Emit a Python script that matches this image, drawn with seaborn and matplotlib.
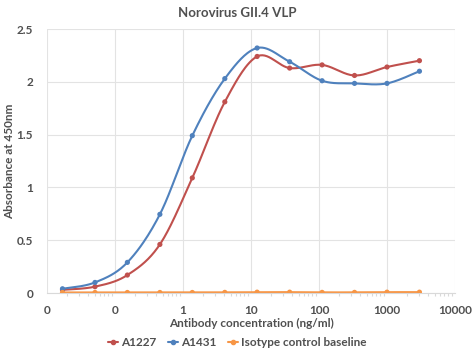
import numpy as np
import pandas as pd
import matplotlib
matplotlib.use("Agg")
import matplotlib.pyplot as plt
import matplotlib.ticker as mticker
import seaborn as sns

# data
conc = [0.0169, 0.0508, 0.152, 0.457, 1.37, 4.12, 12.3, 37.0, 111.0, 333.0, 1000.0, 3000.0]
a1227 = [0.03, 0.06, 0.17, 0.46, 1.09, 1.81, 2.24, 2.13, 2.16, 2.06, 2.14, 2.20]
a1431 = [0.04, 0.10, 0.29, 0.745, 1.49, 2.03, 2.32, 2.19, 2.01, 1.985, 1.985, 2.10]
isotype = [0.005, 0.005, 0.005, 0.005, 0.005, 0.006, 0.008, 0.008, 0.006, 0.006, 0.008, 0.008]
xticklabels = ["0", "0", "1", "10", "100", "1000", "10000"]

colors = {"A1227": "#C0504D", "A1431": "#4F81BD", "Isotype control baseline": "#F79646"}


def smooth(xs, ys, n=30):
    # Excel-like smoothed line (Catmull-Rom / Bezier) in log-x space
    lx = np.log10(xs)
    ys = np.asarray(ys, float)
    px, py = [], []
    for i in range(len(lx) - 1):
        x0, y0 = (lx[i - 1], ys[i - 1]) if i > 0 else (lx[i], ys[i])
        x1, y1 = lx[i], ys[i]
        x2, y2 = lx[i + 1], ys[i + 1]
        x3, y3 = (lx[i + 2], ys[i + 2]) if i + 2 < len(lx) else (x2, y2)
        c1x, c1y = x1 + (x2 - x0) / 6, y1 + (y2 - y0) / 6
        c2x, c2y = x2 - (x3 - x1) / 6, y2 - (y3 - y1) / 6
        t = np.linspace(0, 1, n, endpoint=False)
        b = [(1 - t) ** 3, 3 * (1 - t) ** 2 * t, 3 * (1 - t) * t ** 2, t ** 3]
        px.extend(b[0] * x1 + b[1] * c1x + b[2] * c2x + b[3] * x2)
        py.extend(b[0] * y1 + b[1] * c1y + b[2] * c2y + b[3] * y2)
    px.append(lx[-1])
    py.append(ys[-1])
    return 10 ** np.array(px), np.array(py)


sns.set_style("white")
plt.rcParams["font.family"] = ["Lato", "DejaVu Sans"]
text_col = "#505050"

fig = plt.figure(figsize=(4.74, 3.55), dpi=100)
ax = fig.add_axes([47 / 474, 1 - 293 / 355, 408 / 474, 264 / 355])

series = [("A1227", a1227), ("A1431", a1431), ("Isotype control baseline", isotype)]
for name, vals in series:
    sx, sy = smooth(conc, vals)
    line_df = pd.DataFrame({"x": sx, "y": sy})
    sns.lineplot(data=line_df, x="x", y="y", ax=ax, color=colors[name], lw=1.5,
                 sort=False, estimator=None)
    pt_df = pd.DataFrame({"x": conc, "y": vals})
    sns.scatterplot(data=pt_df, x="x", y="y", ax=ax, color=colors[name], s=14,
                    edgecolor="none", zorder=3)

ax.set_xscale("log")
ax.set_xlim(0.01, 10000)
ax.set_ylim(0, 2.5)
ax.set_xticks([0.01, 0.1, 1, 10, 100, 1000, 10000])
ax.set_xticklabels(xticklabels)
ax.set_yticks([0, 0.5, 1, 1.5, 2, 2.5])
ax.set_yticklabels(["0", "0.5", "1", "1.5", "2", "2.5"])
ax.xaxis.set_minor_locator(mticker.LogLocator(base=10, subs=np.arange(2, 10), numticks=20))
ax.xaxis.set_minor_formatter(mticker.NullFormatter())

ax.grid(True, which="major", color="#E3E3E3", lw=0.8)
ax.set_axisbelow(True)
for s in ["top", "right", "left"]:
    ax.spines[s].set_visible(False)
ax.spines["bottom"].set_color("#D9D9D9")
ax.tick_params(axis="x", which="minor", direction="out", length=2.5, color="#D9D9D9", width=0.8, bottom=True)
ax.tick_params(axis="x", which="major", length=0, pad=9)
ax.tick_params(axis="y", length=0, pad=10)
ax.tick_params(labelsize=8.5, labelcolor=text_col)
for lab in ax.get_xticklabels() + ax.get_yticklabels():
    lab.set_fontweight("bold")

ax.set_xlabel("Antibody concentration (ng/ml)", fontsize=8.5, color=text_col, fontweight="bold")
ax.xaxis.set_label_coords(0.5, -(323 - 293) / 264, transform=ax.transAxes)
ax.xaxis.label.set_va("center")
ax.set_ylabel("Absorbance at 450nm", fontsize=8.5, color=text_col, fontweight="bold")
ax.yaxis.set_label_coords(-(47 - 10) / 408, 0.5, transform=ax.transAxes)
ax.yaxis.label.set_va("center")
fig.text(0.5, 1 - 13 / 355, "Norovirus GII.4 VLP", fontsize=9.5, color=text_col,
         fontweight="bold", ha="center", va="center")

handles = [plt.Line2D([], [], color=colors[n], lw=1.5, marker="o", ms=3) for n, _ in series]
leg = fig.legend(handles, [n for n, _ in series], loc="center", bbox_to_anchor=(0.5, 1 - 343 / 355),
                 ncol=3, frameon=False, fontsize=8.5, handlelength=0.9, handletextpad=0.2,
                 columnspacing=1.0, borderpad=0)
for t in leg.get_texts():
    t.set_color(text_col)
    t.set_fontweight("bold")

fig.savefig("out.png", dpi=100)
